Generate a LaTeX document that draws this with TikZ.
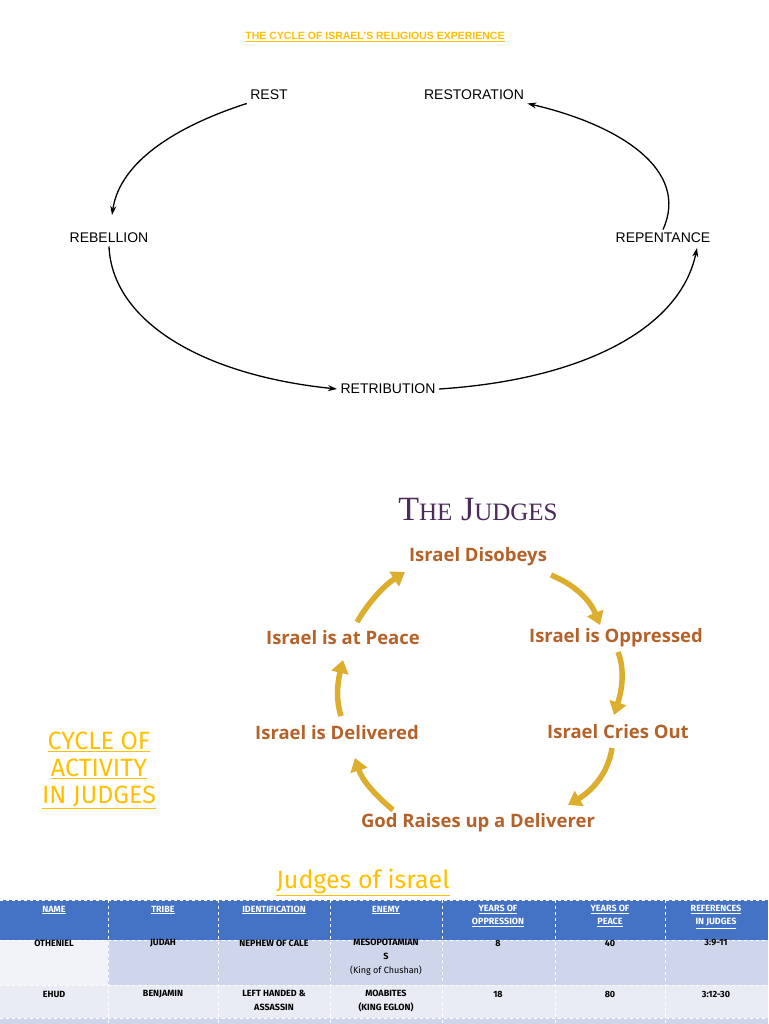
\documentclass[tikz,border=0pt]{standalone}
\usepackage{fontspec}
\setmainfont{Liberation Sans}
\newfontfamily\ser{Liberation Serif}
\newfontfamily\hum{Open Sans}
\newfontfamily\fira{Fira Sans}
\usetikzlibrary{arrows.meta}
\definecolor{gold}{HTML}{DDAE2E}
\definecolor{brn}{HTML}{B5622A}
\definecolor{yel}{HTML}{FFC000}
\definecolor{pur}{HTML}{4B2A5C}
\definecolor{hdr}{HTML}{4472C4}
\definecolor{rowa}{HTML}{CFD5EA}
\definecolor{rowb}{HTML}{E9EBF5}
\begin{document}
\begin{tikzpicture}[x=1pt,y=-1pt,
 lab/.style={font=\fontsize{14}{15}\selectfont},
 cyc/.style={->,>={Stealth[length=9pt,width=6pt]},line width=1.3pt},
 jl/.style={font=\hum\bfseries\fontsize{18.5}{20}\selectfont,text=brn},
 ga/.style={draw=gold,line width=5.5pt,-{Triangle[length=13pt,width=17pt]}},
 th/.style={font=\fira\fontsize{9}{13}\selectfont\bfseries,text=white,align=center},
 td/.style={font=\fira\fontsize{9}{14}\selectfont\bfseries,align=center}]
\useasboundingbox (0,0) rectangle (768,1024);
\fill[white] (0,0) rectangle (768,1024);
% top
\node[text=yel,font=\fontsize{10.5}{12}\selectfont\bfseries] (t1) at (375,37) {\underline{THE CYCLE OF ISRAEL'S RELIGIOUS EXPERIENCE}};
\node[lab] (rest) at (269,95) {REST};
\node[lab] (resto) at (474,95) {RESTORATION};
\node[lab] (reb) at (109,238) {REBELLION};
\node[lab] (rep) at (663,238) {REPENTANCE};
\node[lab] (ret) at (388,389) {RETRIBUTION};
\draw[cyc] (rest.south west) .. controls (180,125) and (120,160) .. (112,215);
\draw[cyc] (reb.south) .. controls (112,320) and (200,375) .. (ret.west);
\draw[cyc] (ret.east) .. controls (580,380) and (680,330) .. (697,248);
\draw[cyc] (rep.north) .. controls (690,170) and (620,125) .. (resto.south east);
% judges
\node[font=\ser\fontsize{34}{36}\selectfont,text=pur] (tj) at (478,510) {T{\fontsize{25}{26}\selectfont HE} J{\fontsize{25}{26}\selectfont UDGES}};
\node[jl] (d) at (478,557) {Israel Disobeys};
\node[jl] (o) at (616,638) {Israel is Oppressed};
\node[jl] (c) at (618,732) {Israel Cries Out};
\node[jl] (g) at (478,823) {God Raises up a Deliverer};
\node[jl] (dl) at (337,733) {Israel is Delivered};
\node[jl] (p) at (343,638) {Israel is at Peace};
\draw[ga] (551,575) .. controls (575,585) and (590,600) .. (600,625);
\draw[ga] (618,652) .. controls (625,670) and (622,690) .. (614,715);
\draw[ga] (612,748) .. controls (608,775) and (590,792) .. (568,805);
\draw[ga] (393,810) .. controls (375,795) and (362,780) .. (355,758);
\draw[ga] (341,716) .. controls (336,700) and (337,685) .. (343,660);
\draw[ga] (357,622) .. controls (370,600) and (385,585) .. (405,572);
\node[text=yel,font=\fira\fontsize{25}{27}\selectfont,align=center] (ca) at (99,770) {\underline{CYCLE OF}\\\underline{ACTIVITY}\\\underline{IN JUDGES}};
% table
\node[text=yel,font=\fira\fontsize{25}{27}\selectfont] (ji) at (363,882) {\underline{Judges of israel}};
\fill[hdr] (0,900) rectangle (768,940);
\fill[rowa] (0,940) rectangle (768,985);
\fill[white!70!rowa] (0,940) rectangle (108,985);
\fill[rowb] (0,985) rectangle (768,1018);
\fill[rowa] (0,1018) rectangle (768,1024);
\foreach \x in {108,218,330,442,555,665} \draw[white,dashed,line width=0.6pt] (\x,900) -- (\x,1024);
\foreach \y in {900,940,985,1018} \draw[white,dashed,line width=0.6pt] (0,\y) -- (768,\y);
\node[th] (h1) at (54,910) {\underline{NAME}};
\node[th] (h2) at (163,910) {\underline{TRIBE}};
\node[th] (h3) at (274,910) {\underline{IDENTIFICATION}};
\node[th] (h4) at (386,910) {\underline{ENEMY}};
\node[th,anchor=north] (h5) at (498,902) {\underline{YEARS OF}\\\underline{OPPRESSION}};
\node[th,anchor=north] (h6) at (610,902) {\underline{YEARS OF}\\\underline{PEACE}};
\node[th,anchor=north] (h7) at (716,902) {\underline{REFERENCES}\\\underline{IN JUDGES}};
\node[td] (a1) at (54,943) {OTHENIEL};
\node[td] (a2) at (163,943) {JUDAH};
\node[td] (a3) at (274,943) {NEPHEW OF CALE};
\node[td,anchor=north] (a4) at (386,936) {MESOPOTAMIAN\\S\\{\mdseries(King of Chushan)}};
\node[td] (a5) at (498,943) {8};
\node[td] (a6) at (610,943) {40};
\node[td] (a7) at (716,943) {3:9-11};
\node[td] (b1) at (54,994) {EHUD};
\node[td] (b2) at (163,994) {BENJAMIN};
\node[td,anchor=north] (b3) at (274,987) {LEFT HANDED \&\\ASSASSIN};
\node[td,anchor=north] (b4) at (386,987) {MOABITES\\(KING EGLON)};
\node[td] (b5) at (498,994) {18};
\node[td] (b6) at (610,994) {80};
\node[td] (b7) at (716,994) {3:12-30};
\end{tikzpicture}
\end{document}
